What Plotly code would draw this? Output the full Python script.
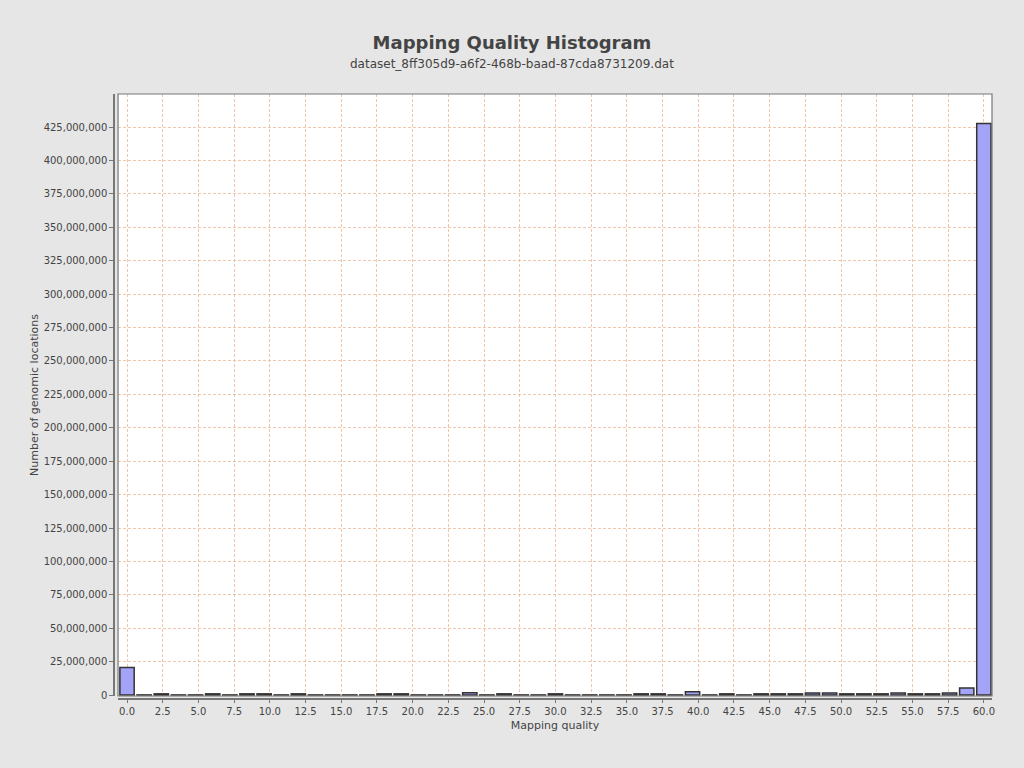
import plotly.graph_objects as go

TITLE = "Mapping Quality Histogram"
SUBTITLE = "dataset_8ff305d9-a6f2-468b-baad-87cda8731209.dat"

# bin centres (mapping quality)
mapq = [
    0.0, 1.2, 2.4, 3.6, 4.8, 6.0, 7.2, 8.4, 9.6, 10.8,
    12.0, 13.2, 14.4, 15.6, 16.8, 18.0, 19.2, 20.4, 21.6, 22.8,
    24.0, 25.2, 26.4, 27.6, 28.8, 30.0, 31.2, 32.4, 33.6, 34.8,
    36.0, 37.2, 38.4, 39.6, 40.8, 42.0, 43.2, 44.4, 45.6, 46.8,
    48.0, 49.2, 50.4, 51.6, 52.8, 54.0, 55.2, 56.4, 57.6, 58.8,
    60.0,
]

# number of genomic locations per bin
counts = [
    20_700_000, 100_000, 900_000, 100_000, 100_000, 900_000, 100_000, 900_000, 900_000, 100_000,
    900_000, 100_000, 100_000, 100_000, 100_000, 900_000, 900_000, 100_000, 100_000, 100_000,
    1_700_000, 100_000, 900_000, 100_000, 100_000, 900_000, 100_000, 100_000, 100_000, 100_000,
    900_000, 900_000, 100_000, 2_500_000, 100_000, 900_000, 100_000, 900_000, 900_000, 900_000,
    1_600_000, 1_600_000, 900_000, 900_000, 900_000, 1_600_000, 900_000, 900_000, 1_500_000, 5_200_000,
    427_800_000,
]

FONT = "DejaVu Sans"
TEXT = "#444444"
GRID = "rgba(236,185,150,0.8)"
W, H = 1024, 768
ML, MR, MT, MB = 114, 32, 94, 69

fig = go.Figure()
fig.add_trace(go.Bar(
    x=mapq, y=counts, width=1.0,
    marker=dict(color="#a3a3f7", line=dict(color="#333333", width=1.5)),
    hovertemplate="MAPQ %{x}<br>%{y:,}<extra></extra>",
))

fig.update_layout(
    width=W, height=H,
    paper_bgcolor="#e6e6e6", plot_bgcolor="white",
    font=dict(family=FONT, color=TEXT, size=10),
    margin=dict(l=ML, r=MR, t=MT, b=MB),
    showlegend=False,
    title=dict(
        text=f"<b>{TITLE}</b>", x=0.5, xanchor="center", y=0.945, yanchor="middle",
        font=dict(size=18, color=TEXT, family=FONT),
    ),
    xaxis=dict(
        range=[-0.63, 60.57], domain=[0.0046, 1],
        anchor="free", position=0,
        tickmode="linear", tick0=0, dtick=2.5, tickformat=".1f",
        ticks="outside", ticklen=3, tickcolor="#777", tickfont=dict(size=10),
        showline=True, linecolor="#777", linewidth=1.5,
        showgrid=True, gridcolor=GRID, griddash="3px,2px", gridwidth=1,
        zeroline=False,
        title=dict(text="Mapping quality", font=dict(size=11), standoff=5),
    ),
    yaxis=dict(
        range=[-700_000, 449_800_000], domain=[0.005, 1],
        anchor="free", position=0,
        tickmode="linear", tick0=0, dtick=25_000_000, tickformat=",d",
        ticks="outside", ticklen=4, tickcolor="#777", tickfont=dict(size=10),
        showline=True, linecolor="#777", linewidth=1.5,
        showgrid=True, gridcolor=GRID, griddash="3px,2px", gridwidth=1,
        zeroline=False,
        title=dict(text="Number of genomic locations", font=dict(size=11), standoff=2),
    ),
    annotations=[dict(
        # centred on the page, not on the plot area
        text=SUBTITLE, xref="paper", yref="paper",
        x=(W / 2 - ML) / (W - ML - MR), y=1.05,
        xanchor="center", yanchor="middle", showarrow=False,
        font=dict(size=12, color=TEXT, family=FONT),
    )],
    shapes=[dict(
        type="rect", xref="x domain", yref="y domain", x0=0, x1=1, y0=0, y1=1,
        line=dict(color="#777", width=1.2), layer="above",
    )],
)

fig.write_html(
    "out.html",
    config={"displayModeBar": False},
    post_script="document.body.style.margin='0';",
)
